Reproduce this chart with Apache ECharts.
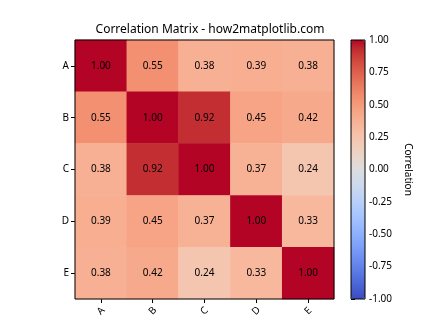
<!DOCTYPE html>
<html><head><meta charset="utf-8">
<script src="https://cdn.jsdelivr.net/npm/echarts@6/dist/echarts.min.js"></script>
<style>html,body{margin:0;padding:0;background:#fff}#c{width:448px;height:336px}</style>
</head><body><div id="c"></div>
<script>
const labels = ['A','B','C','D','E'];
const rowA = [1.00, 0.55, 0.38, 0.39, 0.38];
const rowB = [0.55, 1.00, 0.92, 0.45, 0.42];
const rowC = [0.38, 0.92, 1.00, 0.37, 0.24];
const rowD = [0.39, 0.45, 0.37, 1.00, 0.33];
const rowE = [0.38, 0.42, 0.24, 0.33, 1.00];
const rows = [rowA, rowB, rowC, rowD, rowE];
const cbTicks = [-1, -0.75, -0.5, -0.25, 0, 0.25, 0.5, 0.75, 1];

// matplotlib coolwarm colormap table
const coolwarm = [
[0.2298057,0.298717966,0.753683153],[0.26623388,0.353094838,0.801466763],[0.30386891,0.406535296,0.84495867],
[0.342804478,0.458757618,0.883725899],[0.38301334,0.50941904,0.917387822],[0.424369608,0.558148092,0.945619588],
[0.46666708,0.604562568,0.968154911],[0.509635204,0.648280772,0.98478814],[0.552953156,0.688929332,0.995375608],
[0.596262162,0.726149107,0.999836203],[0.639176211,0.759599947,0.998151185],[0.681291281,0.788964712,0.990363227],
[0.722193294,0.813952739,0.976574709],[0.761464949,0.834302879,0.956945269],[0.798691636,0.849786142,0.931688648],
[0.833466556,0.860207984,0.901068838],[0.865395197,0.86541021,0.865395561],[0.897787179,0.848937047,0.820880546],
[0.924127593,0.827384882,0.774508472],[0.944468518,0.800927443,0.726736146],[0.958852946,0.769767752,0.678007945],
[0.96732803,0.734132809,0.628751763],[0.969954137,0.694266682,0.579375448],[0.966811177,0.650421156,0.530263762],
[0.958003065,0.602842431,0.481775914],[0.943660866,0.551750968,0.434243684],[0.923944917,0.49730856,0.387970225],
[0.89904617,0.439559467,0.343229596],[0.869186849,0.378313092,0.300267182],[0.834620542,0.312874446,0.259301199],
[0.795631745,0.24128379,0.220525627],[0.752534934,0.157246067,0.184115123],[0.705673158,0.01555616,0.150232812]
].map(c => 'rgb(' + c.map(v => Math.round(v*255)).join(',') + ')');

const data = [];
rows.forEach((r, i) => r.forEach((v, j) => data.push([j, i, v])));

const FONT = 'Noto Sans';
const chart = echarts.init(document.getElementById('c'), null, {renderer: 'canvas'});
chart.setOption({
  animation: false,
  textStyle: {fontFamily: FONT},
  title: {
    text: 'Correlation Matrix - how2matplotlib.com',
    left: 205, top: 19, textAlign: 'center',
    textStyle: {fontFamily: FONT, fontSize: 12, fontWeight: 'normal', color: '#000'}
  },
  grid: [
    {left: 75, top: 40, width: 259, height: 259, show: true, borderColor: '#000', borderWidth: 1, backgroundColor: 'transparent', z: 10},
    {left: 351, top: 40, width: 14, height: 259, show: true, borderColor: '#000', borderWidth: 1, backgroundColor: 'transparent', z: 10}
  ],
  xAxis: [
    {type: 'category', gridIndex: 0, data: labels,
     axisLine: {show: false}, splitLine: {show: false},
     axisTick: {show: true, alignWithLabel: true, length: 4, lineStyle: {color: '#000'}},
     axisLabel: {rotate: 45, align: 'center', verticalAlign: 'middle', color: '#000', fontSize: 10, margin: 12, fontFamily: FONT}},
    {type: 'value', gridIndex: 1, show: false, min: 0, max: 1}
  ],
  yAxis: [
    {type: 'category', gridIndex: 0, data: labels, inverse: true,
     axisLine: {show: false}, splitLine: {show: false},
     axisTick: {show: true, alignWithLabel: true, length: 4, lineStyle: {color: '#000'}},
     axisLabel: {color: '#000', fontSize: 10, margin: 6, fontFamily: FONT}},
    {type: 'value', gridIndex: 1, position: 'right', min: -1, max: 1, interval: 0.25,
     axisLine: {show: false}, splitLine: {show: false},
     axisTick: {show: true, length: 4, lineStyle: {color: '#000'}},
     axisLabel: {color: '#000', fontSize: 10, margin: 4, fontFamily: FONT,
       formatter: v => cbTicks.includes(v) ? v.toFixed(2) : ''},
     name: 'Correlation', nameLocation: 'middle', nameRotate: -90, nameGap: 38,
     nameTextStyle: {color: '#000', fontSize: 10, fontFamily: FONT}}
  ],
  visualMap: {
    type: 'continuous', min: -1, max: 1, show: true, calculable: false,
    seriesIndex: 0, orient: 'vertical', left: 351, top: 40, padding: 0,
    itemWidth: 14, itemHeight: 259, text: null, hoverLink: false,
    inRange: {color: coolwarm}, textStyle: {color: 'transparent'}
  },
  series: [{
    type: 'heatmap', xAxisIndex: 0, yAxisIndex: 0, data: data,
    label: {show: true, color: '#000', fontSize: 10, fontFamily: FONT,
      formatter: p => p.value[2].toFixed(2)},
    itemStyle: {borderWidth: 0},
    emphasis: {disabled: true}
  }]
});
</script></body></html>
